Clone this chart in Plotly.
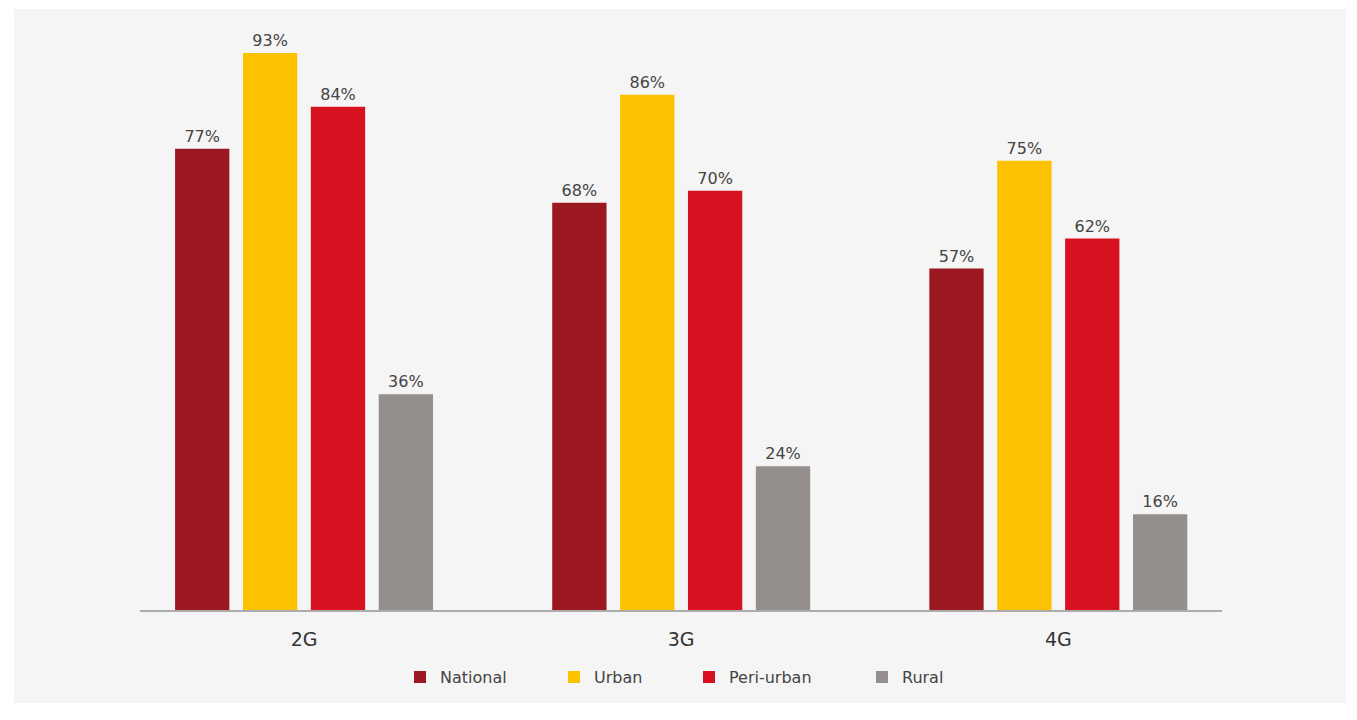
import plotly.graph_objects as go

# categories and series
networks = ['2G', '3G', '4G']
national = [77, 68, 57]
urban = [93, 86, 75]
peri_urban = [84, 70, 62]
rural = [36, 24, 16]

series = [
    ('National', national, '#9b1820', 109),
    ('Urban', urban, '#fcc200', 90),
    ('Peri-urban', peri_urban, '#d7111f', 128),
    ('Rural', rural, '#948f8c', 55),
]

FONT = 'DejaVu Sans'

fig = go.Figure()
for name, vals, col, lw in series:
    fig.add_trace(go.Bar(
        x=networks, y=vals, name=name,
        marker=dict(color=col, line=dict(width=0)),
        text=[f'{v}%' for v in vals],
        textposition='outside',
        cliponaxis=False,
        legendwidth=lw,
        textfont=dict(family=FONT, size=16, color='#444444'),
    ))

# light grey panel behind the chart
fig.add_shape(type='rect', xref='paper', yref='paper',
              x0=-0.1165, x1=1.1146, y0=-0.1553, y1=1.0033,
              fillcolor='#f5f5f5', line=dict(width=0), layer='below')

fig.update_layout(
    width=1349, height=712,
    margin=dict(l=132, r=135, t=3, b=110),
    paper_bgcolor='white',
    plot_bgcolor='rgba(0,0,0,0)',
    barmode='group',
    bargap=0.28,
    bargroupgap=0.2,
    showlegend=True,
    legend=dict(orientation='h', x=0.2403, xanchor='left',
                y=-0.112, yanchor='middle',
                font=dict(family=FONT, size=16, color='#444444'),
                bgcolor='rgba(0,0,0,0)'),
    xaxis=dict(range=[-0.435, 2.434], showline=True, linecolor='#acacac',
               linewidth=2, showgrid=False, zeroline=False,
               ticks='outside', ticklen=11, tickcolor='rgba(0,0,0,0)',
               tickfont=dict(family=FONT, size=19, color='#333333')),
    yaxis=dict(range=[0, 100], visible=False, showgrid=False, zeroline=False),
)

fig.write_html('out.html')
